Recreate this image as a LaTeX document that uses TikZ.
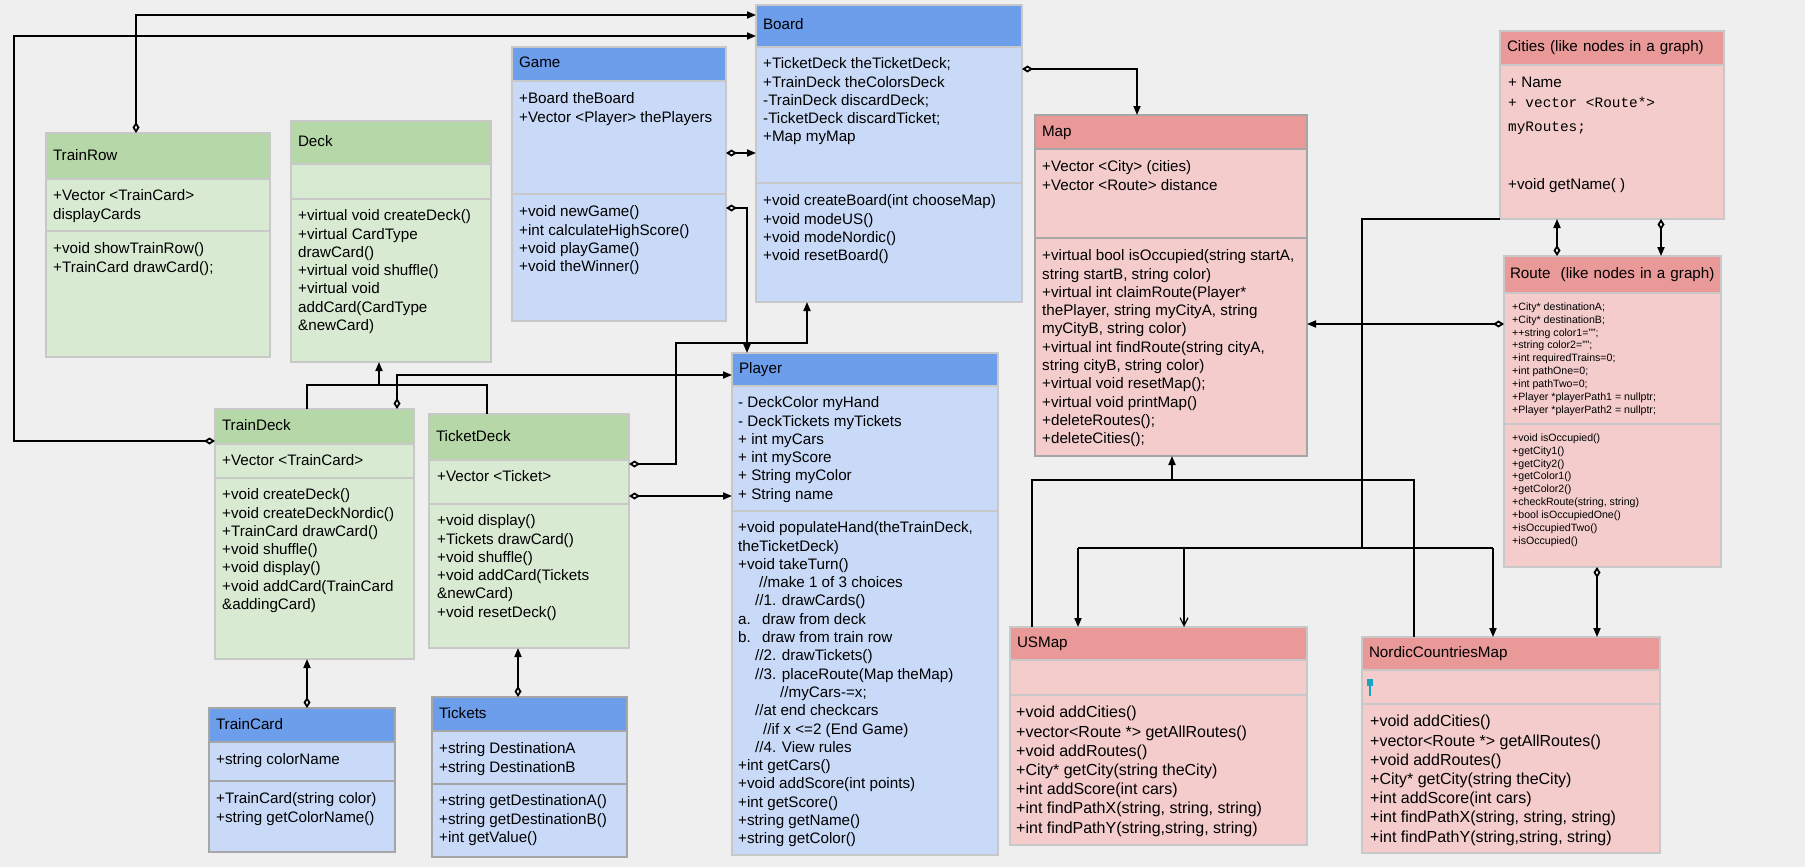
\documentclass[tikz,border=0pt]{standalone}
\usepackage{fontspec}
\setmainfont{Liberation Sans}
\newfontfamily\codefont{Liberation Mono}
\usepackage{xcolor}
\usepackage{tikz}
\usetikzlibrary{arrows.meta, calc}
\definecolor{bghue}{HTML}{EFEFEF}
\definecolor{bluehead}{HTML}{6D9EEB}
\definecolor{bluebody}{HTML}{C9DAF8}
\definecolor{greenhead}{HTML}{B6D7A8}
\definecolor{greenbody}{HTML}{D9EAD3}
\definecolor{redhead}{HTML}{EA9999}
\definecolor{redbody}{HTML}{F4CCCC}
\definecolor{framegray}{HTML}{C8C8C8}
\definecolor{darkframe}{HTML}{A6A6A6}
\definecolor{cursorteal}{HTML}{1AA3C0}
\newcommand{\bodyfont}{\fontsize{15.2}{18.3}\selectfont}
\newcommand{\mapsfont}{\fontsize{16}{19.2}\selectfont}
\newcommand{\routefont}{\fontsize{10.6}{12.85}\selectfont}
\newcommand{\codesize}{\codefont\fontsize{14.4}{24}\selectfont}
\tikzset{
  cls/.style={draw=framegray, line width=1.5pt, anchor=north west, inner sep=0pt, outer sep=0pt},
  hd/.style={draw=framegray, line width=1.5pt, anchor=north west, inner xsep=7pt, inner ysep=0pt, outer sep=0pt, align=left, text height=11pt, text depth=3pt, font=\bodyfont},
  sep/.style={draw=framegray, line width=1.5pt},
  txt/.style={anchor=north west, inner sep=0pt, align=left, font=\bodyfont},
  plain/.style={line width=1.8pt, black},
  arr/.style={-{Triangle[length=9pt,width=7pt]}, line width=1.8pt, black},
  dar/.style={{Diamond[fill=white,length=11pt,width=7pt]}-{Triangle[length=9pt,width=7pt]}, line width=1.8pt, black},
  thinarr/.style={-{Straight Barb[length=8pt,width=8pt]}, line width=1.2pt, black}
}

\begin{document}
\begin{tikzpicture}[x=1pt, y=-1pt]
\useasboundingbox (0,0) rectangle (1805,867);
\fill[bghue] (0,0) rectangle (1805,867);

% ===== GREEN CLASSES =====
\node[cls, fill=greenbody, minimum width=224pt, minimum height=224pt] (TrainRow) at (46,133) {};
\node[hd, fill=greenhead, text width=210pt, minimum height=46pt] (TrainRowHd) at (TrainRow.north west) {TrainRow};
\draw[sep] (46,231) -- ++(224,0);
\node[txt] (TrainRowAt) at (53,189.5) {+Vector <TrainCard>\\displayCards};
\node[txt] (TrainRowOp) at (53,242.5) {+void showTrainRow()\\+TrainCard drawCard();};

\node[cls, fill=greenbody, minimum width=200pt, minimum height=241pt] (Deck) at (291,121) {};
\node[hd, fill=greenhead, text width=186pt, minimum height=43pt] (DeckHd) at (Deck.north west) {Deck};
\draw[sep] (291,199) -- ++(200,0);
\node[txt] (DeckOp) at (298,209.5) {+virtual void createDeck()\\+virtual CardType\\drawCard()\\+virtual void shuffle()\\+virtual void\\addCard(CardType\\\&newCard)};

\node[cls, fill=greenbody, minimum width=199pt, minimum height=250pt] (TrainDeck) at (215,409) {};
\node[hd, fill=greenhead, text width=185pt, minimum height=35pt] (TrainDeckHd) at (TrainDeck.north west) {TrainDeck};
\draw[sep] (215,478) -- ++(199,0);
\node[txt] (TrainDeckAt) at (222,454.5) {+Vector <TrainCard>};
\node[txt] (TrainDeckOp) at (222,488.5) {+void createDeck()\\+void createDeckNordic()\\+TrainCard drawCard()\\+void shuffle()\\+void display()\\+void addCard(TrainCard\\\&addingCard)};

\node[cls, fill=greenbody, minimum width=200pt, minimum height=234pt] (TicketDeck) at (429,414) {};
\node[hd, fill=greenhead, text width=186pt, minimum height=46pt] (TicketDeckHd) at (TicketDeck.north west) {TicketDeck};
\draw[sep] (429,504) -- ++(200,0);
\node[txt] (TicketDeckAt) at (437,470.5) {+Vector <Ticket>};
\node[txt] (TicketDeckOp) at (437,514.5) {+void display()\\+Tickets drawCard()\\+void shuffle()\\+void addCard(Tickets\\\&newCard)\\+void resetDeck()};

% ===== BLUE CLASSES =====
\node[cls, fill=bluebody, minimum width=214pt, minimum height=274pt] (Game) at (512,47) {};
\node[hd, fill=bluehead, text width=200pt, minimum height=34pt] (GameHd) at (Game.north west) {Game};
\draw[sep] (512,194) -- ++(214,0);
\node[txt] (GameAt) at (519,92.5) {+Board theBoard\\+Vector <Player> thePlayers};
\node[txt] (GameOp) at (519,205.5) {+void newGame()\\+int calculateHighScore()\\+void playGame()\\+void theWinner()};

\node[cls, fill=bluebody, minimum width=266pt, minimum height=297pt] (Board) at (756,5) {};
\node[hd, fill=bluehead, text width=252pt, minimum height=42pt] (BoardHd) at (Board.north west) {Board};
\draw[sep] (756,183) -- ++(266,0);
\node[txt] (BoardAt) at (763,57.5) {+TicketDeck theTicketDeck;\\+TrainDeck theColorsDeck\\-TrainDeck discardDeck;\\-TicketDeck discardTicket;\\+Map myMap};
\node[txt] (BoardOp) at (763,194.5) {+void createBoard(int chooseMap)\\+void modeUS()\\+void modeNordic()\\+void resetBoard()};

\node[cls, fill=bluebody, minimum width=266pt, minimum height=502pt] (Player) at (732,353) {};
\node[hd, fill=bluehead, text width=252pt, minimum height=33pt] (PlayerHd) at (Player.north west) {Player};
\draw[sep] (732,511) -- ++(266,0);
\node[txt] (PlayerAt) at (738,396.5) {- DeckColor myHand\\- DeckTickets myTickets\\+ int myCars\\+ int myScore\\+ String myColor\\+ String name};
\node[txt] (PlayerOp) at (738,521.5) {+void populateHand(theTrainDeck,\\theTicketDeck)\\+void takeTurn()\\\hspace*{21pt}//make 1 of 3 choices\\\hspace*{17pt}//1. drawCards()\\\makebox[24pt][l]{a.}draw from deck\\\makebox[24pt][l]{b.}draw from train row\\\hspace*{17pt}//2. drawTickets()\\\hspace*{17pt}//3. placeRoute(Map theMap)\\\hspace*{42pt}//myCars-=x;\\\hspace*{17pt}//at end checkcars\\\hspace*{25pt}//if x <=2 (End Game)\\\hspace*{17pt}//4. View rules\\+int getCars()\\+void addScore(int points)\\+int getScore()\\+string getName()\\+string getColor()};

\node[cls, draw=darkframe, fill=bluebody, minimum width=186pt, minimum height=144pt] (TrainCard) at (209,708) {};
\node[hd, draw=darkframe, fill=bluehead, text width=172pt, minimum height=34pt] (TrainCardHd) at (TrainCard.north west) {TrainCard};
\draw[sep, draw=darkframe] (209,781) -- ++(186,0);
\node[txt] (TrainCardAt) at (216,753.5) {+string colorName};
\node[txt] (TrainCardOp) at (216,792.5) {+TrainCard(string color)\\+string getColorName()};

\node[cls, draw=darkframe, fill=bluebody, minimum width=195pt, minimum height=160pt] (Tickets) at (432,697) {};
\node[hd, draw=darkframe, fill=bluehead, text width=181pt, minimum height=34pt] (TicketsHd) at (Tickets.north west) {Tickets};
\draw[sep, draw=darkframe] (432,784) -- ++(195,0);
\node[txt] (TicketsAt) at (439,742.5) {+string DestinationA\\+string DestinationB};
\node[txt] (TicketsOp) at (439,794.5) {+string getDestinationA()\\+string getDestinationB()\\+int getValue()};

% ===== RED CLASSES =====
\node[cls, draw=darkframe, fill=redbody, minimum width=272pt, minimum height=341pt] (Map) at (1035,115) {};
\node[hd, draw=darkframe, fill=redhead, text width=258pt, minimum height=34pt] (MapHd) at (Map.north west) {Map};
\draw[sep, draw=darkframe] (1035,238) -- ++(272,0);
\node[txt] (MapAt) at (1042,160.5) {+Vector <City> (cities)\\+Vector <Route> distance};
\node[txt] (MapOp) at (1042,249.5) {+virtual bool isOccupied(string startA,\\string startB, string color)\\+virtual int claimRoute(Player*\\thePlayer, string myCityA, string\\myCityB, string color)\\+virtual int findRoute(string cityA,\\string cityB, string color)\\+virtual void resetMap();\\+virtual void printMap()\\+deleteRoutes();\\+deleteCities();};

\node[cls, fill=redbody, minimum width=224pt, minimum height=188pt] (Cities) at (1500,31) {};
\node[hd, fill=redhead, text width=210pt, minimum height=34pt] (CitiesHd) at (Cities.north west) {Cities (like nodes in a graph)};
\node[txt] (CitiesAt) at (1508,76.5) {+ Name};
\node[txt, font=\codesize] (CitiesCode) at (1508,97) {+ vector <Route*>\\myRoutes;};
\node[txt] (CitiesOp) at (1508,178.5) {+void getName( )};

\node[cls, fill=redbody, minimum width=217pt, minimum height=311pt] (Route) at (1504,256) {};
\node[hd, fill=redhead, inner xsep=6pt, text width=205pt, minimum height=37pt] (RouteHd) at (Route.north west) {Route~ (like nodes in a graph)};
\draw[sep] (1504,424) -- ++(217,0);
\node[txt, font=\routefont] (RouteAt) at (1512,302.5) {+City* destinationA;\\+City* destinationB;\\++string color1="";\\+string color2="";\\+int requiredTrains=0;\\+int pathOne=0;\\+int pathTwo=0;\\+Player *playerPath1 = nullptr;\\+Player *playerPath2 = nullptr;};
\node[txt, font=\routefont] (RouteOp) at (1512,433.5) {+void isOccupied()\\+getCity1()\\+getCity2()\\+getColor1()\\+getColor2()\\+checkRoute(string, string)\\+bool isOccupiedOne()\\+isOccupiedTwo()\\+isOccupied()};

\node[cls, fill=redbody, minimum width=297pt, minimum height=218pt] (USMap) at (1010,627) {};
\node[hd, fill=redhead, text width=283pt, minimum height=33pt] (USMapHd) at (USMap.north west) {USMap};
\draw[sep] (1010,695) -- ++(297,0);
\node[txt, font=\mapsfont] (USMapOp) at (1016,706) {+void addCities()\\+vector<Route *> getAllRoutes()\\+void addRoutes()\\+City* getCity(string theCity)\\+int addScore(int cars)\\+int findPathX(string, string, string)\\+int findPathY(string,string, string)};

\node[cls, fill=redbody, minimum width=298pt, minimum height=216pt] (Nordic) at (1362,637) {};
\node[hd, fill=redhead, text width=284pt, minimum height=33pt] (NordicHd) at (Nordic.north west) {NordicCountriesMap};
\draw[sep] (1362,704) -- ++(298,0);
\fill[cursorteal] (1367,679) rectangle (1373,686);
\draw[cursorteal, line width=1.5pt] (1370,686) -- (1370,696);
\node[txt, font=\mapsfont] (NordicOp) at (1370,715) {+void addCities()\\+vector<Route *> getAllRoutes()\\+void addRoutes()\\+City* getCity(string theCity)\\+int addScore(int cars)\\+int findPathX(string, string, string)\\+int findPathY(string,string, string)};

% ===== LEFT SIDE LINKS =====
\draw[dar] ([xshift=90pt]TrainRow.north west) |- ([yshift=-10pt]Board.north west);
\draw[dar] ([yshift=-32pt]TrainDeck.north west) -- ++(-201,0) |- ([yshift=-31pt]Board.north west);
\draw[dar] ([yshift=-106pt]Game.north east) coordinate (GameA) -- (GameA -| Board.west);
\draw[dar] ([yshift=-161pt]Game.north east) -| ([xshift=15pt]Player.north west);
\draw[dar] ([xshift=182pt]TrainDeck.north west) |- ([yshift=-22pt]Player.north west);
\draw[dar] ([yshift=-50pt]TicketDeck.north east) -- ++(47,0) |- ++(131,-121) -- ([xshift=51pt]Board.south west);
\draw[dar] ([yshift=-82pt]TicketDeck.north east) coordinate (TkA) -- (TkA -| Player.west);
\draw[dar] ([xshift=98pt]TrainCard.north west) coordinate (TcA) -- (TcA |- TrainDeck.south);
\draw[dar] ([xshift=86pt]Tickets.north west) coordinate (TiA) -- (TiA |- TicketDeck.south);

% ===== DECK INHERITANCE =====
\draw[plain] ([xshift=92pt]TrainDeck.north west) -- ++(0,-24) -| ([xshift=58pt]TicketDeck.north west);
\coordinate (DeckJoin) at ([xshift=-12pt,yshift=-23pt]Deck.south);
\draw[arr] (DeckJoin) -- (DeckJoin |- Deck.south);

% ===== RIGHT SIDE LINKS =====
\draw[dar] ([yshift=-64pt]Board.north east) -| ([xshift=102pt]Map.north west);
\draw[dar] ([yshift=-68pt]Route.north west) coordinate (RoA) -- (RoA -| Map.east);
\draw[dar] ([xshift=53pt]Route.north west) coordinate (RoB) -- (RoB |- Cities.south);
\draw[dar] ([xshift=161pt]Cities.south west) coordinate (CiA) -- (CiA |- Route.north);
\draw[dar] ([xshift=93pt]Route.south west) coordinate (RoC) -- (RoC |- Nordic.north);

% ===== MAP INHERITANCE =====
\coordinate (MapJoin) at ([xshift=137pt,yshift=-24pt]Map.south west);
\coordinate (UsTop) at ([xshift=22pt]USMap.north west);
\coordinate (NoTop) at ([xshift=52pt]Nordic.north west);
\draw[arr] (MapJoin) -- (MapJoin |- Map.south);
\draw[plain] (UsTop) |- (MapJoin) -| (NoTop);

% ===== CITIES TO MAPS =====
\coordinate (CityL) at (1078,548);
\coordinate (CityR) at (1493,548);
\draw[plain] (CityL) -- (CityR);
\draw[plain] (Cities.south west) -| (Nordic.west |- CityL);
\draw[arr] (CityL) -- (CityL |- USMap.north);
\draw[thinarr] ([xshift=106pt]CityL) coordinate (CityM) -- (CityM |- USMap.north);
\draw[arr] (CityR) -- (CityR |- Nordic.north);

\end{tikzpicture}
\end{document}
